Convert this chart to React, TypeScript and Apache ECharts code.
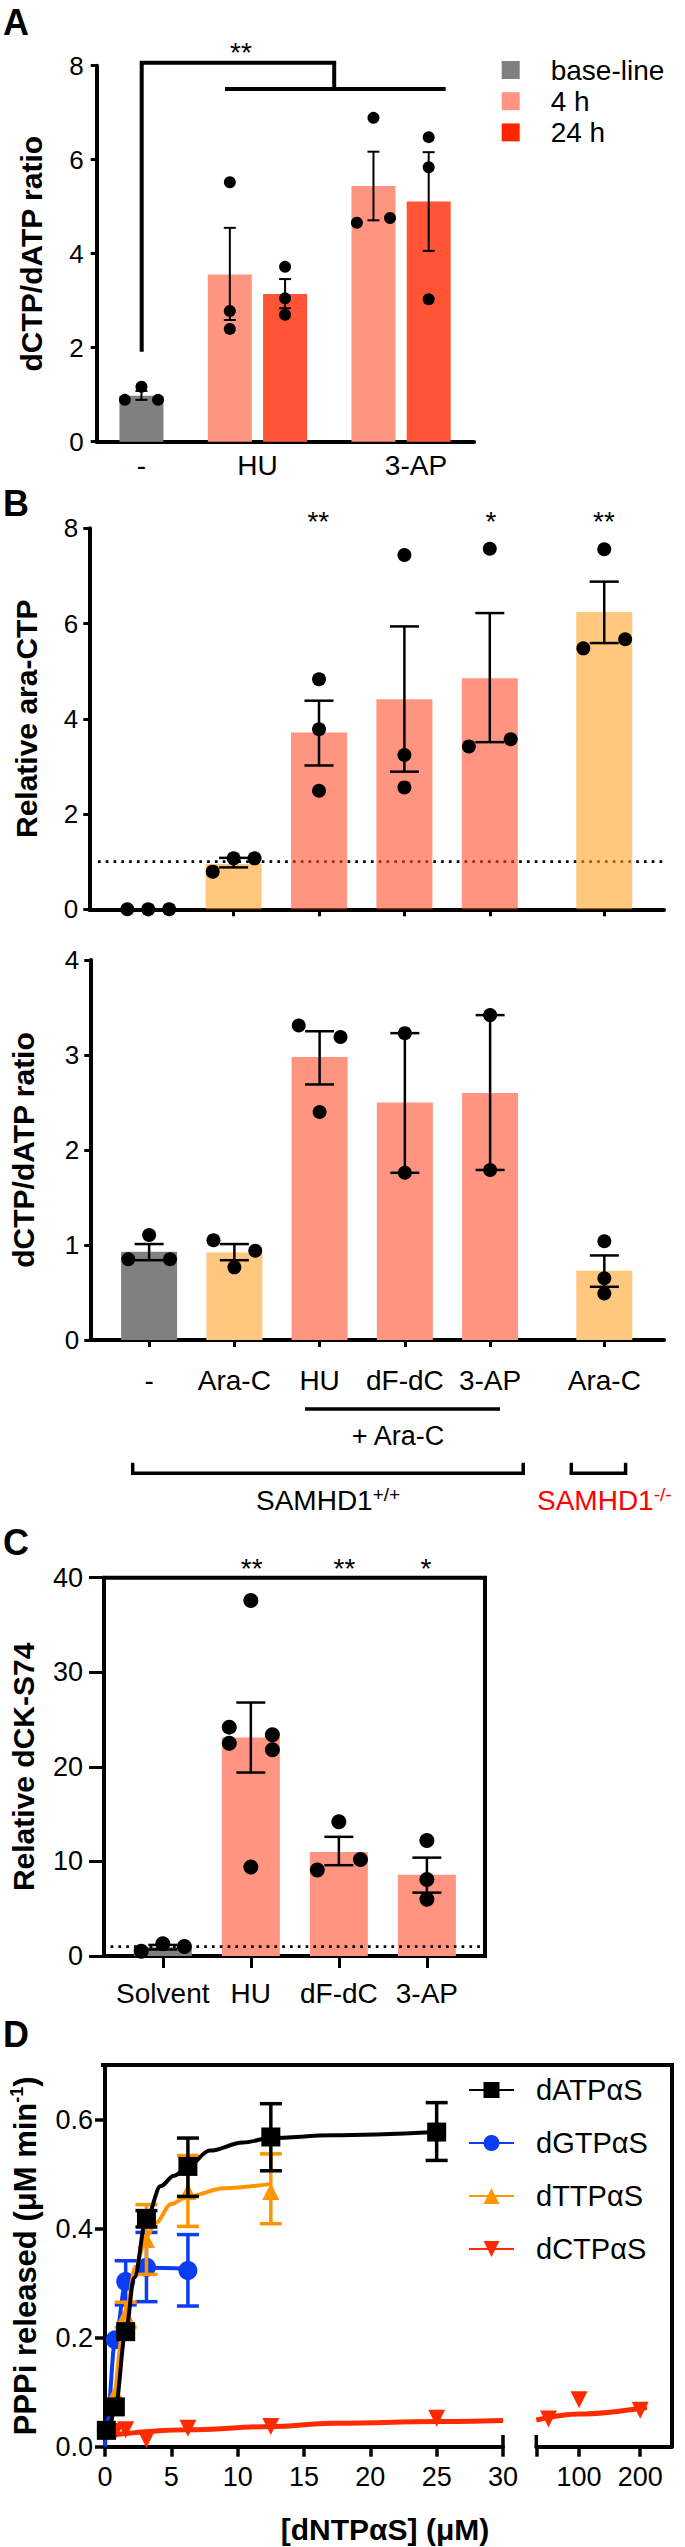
import React, { useEffect, useRef } from 'react';
import * as echarts from 'echarts';

const FONT = "'Liberation Sans', Arial, Helvetica, sans-serif";

// ---------- Panel A ----------
const aGroupLabels = ['-', 'HU', '3-AP'];
const aGroupLabelPos = [0, 2.1, 4.97];
const aBarPos = [0, 1.6, 2.6, 4.2, 5.2];
const aBarSeries = ['base-line', '4 h', '24 h', '4 h', '24 h'];
const aMean = [0.98, 3.56, 3.14, 5.44, 5.11];
const aErrLow = [0.89, 2.59, 2.84, 4.71, 4.06];
const aErrHigh = [1.08, 4.55, 3.46, 6.17, 6.16];
const aDots = [
  [[-1, 0.89], [0, 1.17], [1, 0.89]],
  [[0, 5.52], [0, 2.78], [0, 2.4]],
  [[0, 3.72], [0, 3.05], [0, 2.7]],
  [[0, 6.89], [-1, 4.66], [1, 4.76]],
  [[0, 6.48], [0, 5.84], [0, 3.03]],
];

// ---------- Panel B ----------
const bLabels = ['-', 'Ara-C', 'HU', 'dF-dC', '3-AP', 'Ara-C'];
const bPos = [0, 1, 2, 3, 4, 5.34];
const bKind = ['none', 'araC', 'combo', 'combo', 'combo', 'araC'];
const bTopMean = [0, 0.95, 3.71, 4.41, 4.85, 6.24];
const bTopLow = [null, 0.88, 3.02, 2.89, 3.51, 5.59];
const bTopHigh = [null, 1.08, 4.38, 5.94, 6.22, 6.88];
const bTopDots = [
  [[-1, 0], [0, 0], [1, 0]],
  [[-1, 0.79], [0, 1.07], [1, 1.07]],
  [[0, 4.83], [0, 3.78], [0, 2.49]],
  [[0, 7.44], [0, 3.24], [0, 2.56]],
  [[0, 7.57], [-1, 3.42], [1, 3.57]],
  [[0, 7.56], [-1, 5.48], [1, 5.67]],
];
const bBotMean = [0.93, 0.92, 2.98, 2.5, 2.6, 0.73];
const bBotLow = [0.84, 0.84, 2.69, 1.76, 1.79, 0.56];
const bBotHigh = [1.01, 1.01, 3.25, 3.23, 3.42, 0.89];
const bBotDots = [
  [[-1, 0.85], [0, 1.105], [1, 0.85]],
  [[-1, 1.05], [0, 0.765], [1, 0.94]],
  [[-1, 3.31], [0, 2.4], [1, 3.19]],
  [[0, 3.23], [0, 1.76]],
  [[0, 3.42], [0, 1.79]],
  [[0, 1.04], [0, 0.65], [0, 0.49]],
];

// ---------- Panel C ----------
const cLabels = ['Solvent', 'HU', 'dF-dC', '3-AP'];
const cPos = [0, 1, 2, 3];
const cKind = ['none', 'combo', 'combo', 'combo'];
const cMean = [0.93, 23.1, 11.0, 8.6];
const cLow = [0.69, 19.4, 9.6, 6.7];
const cHigh = [1.17, 26.8, 12.6, 10.4];
const cDots = [
  [[-1, 0.5], [0, 1.3], [1, 1.0]],
  [[0, 37.6], [-1, 24.2], [-1, 22.5], [1, 23.4], [1, 21.8], [0, 9.4]],
  [[0, 14.2], [-1, 9.1], [1, 10.2]],
  [[0, 12.2], [0, 8.1], [0, 6.0]],
];

// ---------- Panel D ----------
const dATPx = [0.1, 0.78, 1.56, 3.125, 6.25, 12.5, 25];
const dATPy = [0.03, 0.073, 0.211, 0.418, 0.514, 0.568, 0.577];
const dATPlo = [null, null, null, 0.403, 0.459, 0.506, 0.525];
const dATPhi = [null, null, null, 0.433, 0.566, 0.629, 0.631];
const dATPfit = [[0.4, 0.035], [0.78, 0.073], [1.56, 0.211], [2.2, 0.31], [3.125, 0.418], [4.2, 0.478], [5.2, 0.497], [6.25, 0.514], [7.9, 0.543], [10.4, 0.558], [12.5, 0.566], [17.1, 0.571], [25, 0.577]];

const dGTPx = [0.1, 0.78, 1.56, 3.125, 6.25];
const dGTPy = [0.031, 0.196, 0.303, 0.329, 0.323];
const dGTPlo = [null, null, 0.26, 0.266, 0.258];
const dGTPhi = [null, null, 0.341, 0.393, 0.389];
const dGTPfit = [[0, 0], [0.1, 0.03], [0.78, 0.196], [1.56, 0.3], [3.125, 0.328], [6.25, 0.326]];

const dTTPx = [0.78, 1.56, 3.125, 6.25, 12.5];
const dTTPy = [0.098, 0.242, 0.38, 0.468, 0.468];
const dTTPlo = [null, 0.219, 0.316, 0.404, 0.409];
const dTTPhi = [null, 0.265, 0.444, 0.534, 0.537];
const dTTPfit = [[0.78, 0.098], [1.56, 0.242], [2.3, 0.33], [3.125, 0.385], [3.8, 0.41], [5, 0.445], [6.25, 0.459], [9, 0.474], [12.5, 0.482]];

const dCTPx = [0.1, 0.78, 1.56, 3.125, 6.25, 12.5, 25];
const dCTPy = [0.03, 0.028, 0.031, 0.013, 0.034, 0.037, 0.052];
const dCTPx2 = [50, 100, 200];
const dCTPy2 = [0.051, 0.086, 0.067];
const dCTPfit1 = [[0, 0.02], [6.25, 0.031], [12.5, 0.037], [17.1, 0.043], [25, 0.046], [30, 0.048]];
const dCTPfit2 = [[30, 0.049], [100, 0.06], [211, 0.072]];

const dXTicks1 = [0, 5, 10, 15, 20, 25, 30];
const dXTicks2 = [30, 100, 200];
const dXLabels2 = [100, 200];
const dYTicks = [0, 0.2, 0.4, 0.6];

// ---------- styles ----------
const COL = {
  gray: '#808080',
  salmon: '#FF9580',
  red24: '#FF5436',
  red24legend: '#FF2600',
  araC: '#FFC87E',
  blue: '#0B3DF5',
  orange: '#FF9500',
  red: '#FF2A00',
};
const kindColor = (k) => (k === 'none' ? COL.gray : k === 'araC' ? COL.araC : COL.salmon);
// semi-transparent variants used where the dotted reference line runs beneath the bars
const kindColorAlpha = (k) => (k === 'none' ? '#565656' : k === 'araC' ? '#FFA328' : '#FF4E2B');

const txt = (size, extra = {}) => ({ color: '#000', fontFamily: FONT, fontSize: size, ...extra });
const axLine = { show: true, onZero: false, lineStyle: { color: '#000', width: 4 } };
const tick = (len, w = 3) => ({ show: true, length: len, lineStyle: { color: '#000', width: w } });

function errSeries(xi, yi, data, capW, lw, color, z) {
  return {
    type: 'custom',
    xAxisIndex: xi,
    yAxisIndex: yi,
    z,
    silent: true,
    data,
    encode: { x: 0, y: [1, 2] },
    renderItem: (params, api) => {
      const x = api.value(0);
      const a = api.coord([x, api.value(1)]);
      const b = api.coord([x, api.value(2)]);
      const st = { stroke: color, lineWidth: lw };
      return {
        type: 'group',
        children: [
          { type: 'line', shape: { x1: a[0], y1: a[1], x2: b[0], y2: b[1] }, style: st },
          { type: 'line', shape: { x1: b[0] - capW / 2, y1: b[1], x2: b[0] + capW / 2, y2: b[1] }, style: st },
          { type: 'line', shape: { x1: a[0] - capW / 2, y1: a[1], x2: a[0] + capW / 2, y2: a[1] }, style: st },
        ],
      };
    },
  };
}

const errData = (pos, lo, hi) =>
  pos.map((p, i) => (lo[i] == null ? null : [p, lo[i], hi[i]])).filter((d) => d);

const dotData = (pos, dots, spread) => {
  const out = [];
  dots.forEach((group, i) => group.forEach(([col, v]) => out.push([pos[i] + col * spread, v])));
  return out;
};

const dotSeries = (xi, yi, data, size, z = 6) => ({
  type: 'scatter',
  xAxisIndex: xi,
  yAxisIndex: yi,
  data,
  symbol: 'circle',
  symbolSize: size,
  itemStyle: { color: '#000', opacity: 1 },
  z,
  silent: true,
  clip: false,
});

const idxLabel = (vals, labels) => (v) => {
  const i = vals.findIndex((p) => Math.abs(p - v) < 1e-6);
  return i >= 0 ? labels[i] : '';
};

const zip = (xs, ys) => xs.map((x, i) => [x, ys[i]]);

function buildOption() {
  const grid = [
    { left: 96.7, top: 65.7, width: 377.3, height: 376 },
    { left: 89.3, top: 528.3, width: 574.7, height: 381 },
    { left: 89.3, top: 960, width: 574.7, height: 380 },
    { left: 104, top: 1577.7, width: 381, height: 378.3, show: true, borderColor: '#000', borderWidth: 4, backgroundColor: 'transparent' },
    { left: 101, top: 2065, width: 402, height: 381.7 },
    { left: 536.3, top: 2065, width: 135.7, height: 381.7 },
  ];

  const xAxis = [
    {
      gridIndex: 0, type: 'value', min: -0.81, max: 6.02,
      axisLine: axLine, axisTick: { show: false }, splitLine: { show: false },
      axisLabel: { ...txt(28), margin: 10, customValues: aGroupLabelPos, formatter: idxLabel(aGroupLabelPos, aGroupLabels) },
    },
    {
      gridIndex: 1, type: 'value', min: -0.69, max: 6.04,
      axisLine: axLine, axisTick: { ...tick(7), customValues: bPos }, splitLine: { show: false },
      axisLabel: { show: false },
    },
    {
      gridIndex: 2, type: 'value', min: -0.69, max: 6.04,
      axisLine: axLine, axisTick: { ...tick(7), customValues: bPos }, splitLine: { show: false },
      axisLabel: { ...txt(28), margin: 26, customValues: bPos, formatter: idxLabel(bPos, bLabels) },
    },
    {
      gridIndex: 3, type: 'value', min: -0.668, max: 3.66,
      axisLine: axLine, axisTick: { ...tick(12), customValues: cPos }, splitLine: { show: false },
      axisLabel: { ...txt(28), margin: 23, customValues: cPos, formatter: idxLabel(cPos, cLabels) },
    },
    {
      gridIndex: 4, type: 'value', min: 0, max: 30, interval: 5,
      axisLine: axLine, axisTick: { ...tick(10, 3.5), customValues: dXTicks1 }, splitLine: { show: false },
      axisLabel: { ...txt(27), margin: 17, customValues: dXTicks1 },
    },
    {
      gridIndex: 5, type: 'value', min: 30, max: 252,
      axisLine: axLine, axisTick: { ...tick(10, 3.5), customValues: dXTicks2 }, splitLine: { show: false },
      axisLabel: { ...txt(27), margin: 17, customValues: dXLabels2 },
    },
  ];

  const yName = (name, gap, size = 30, rich = undefined) => ({
    name,
    nameLocation: 'middle',
    nameRotate: 90,
    nameGap: gap,
    nameTextStyle: { ...txt(size), fontWeight: 'bold', ...(rich ? { rich } : {}) },
  });

  const yAxis = [
    {
      gridIndex: 0, type: 'value', min: 0, max: 8, interval: 2,
      axisLine: axLine, axisTick: tick(6), splitLine: { show: false },
      axisLabel: { ...txt(26), margin: 13 },
      ...yName('dCTP/dATP ratio', 50.7),
    },
    {
      gridIndex: 1, type: 'value', min: 0, max: 8, interval: 2,
      axisLine: axLine, axisTick: tick(6), splitLine: { show: false },
      axisLabel: { ...txt(26), margin: 11 },
      ...yName('Relative ara-CTP', 47.8),
    },
    {
      gridIndex: 2, type: 'value', min: 0, max: 4, interval: 1,
      axisLine: axLine, axisTick: tick(6), splitLine: { show: false },
      axisLabel: { ...txt(26), margin: 11 },
      ...yName('dCTP/dATP ratio', 52.3),
    },
    {
      gridIndex: 3, type: 'value', min: 0, max: 40, interval: 10,
      axisLine: axLine, axisTick: tick(15), splitLine: { show: false },
      axisLabel: { ...txt(27), margin: 21 },
      ...yName('Relative dCK-S74', 66),
    },
    {
      gridIndex: 4, type: 'value', min: 0, max: 0.7,
      axisLine: axLine, axisTick: { ...tick(10, 3.5), customValues: dYTicks }, splitLine: { show: false },
      axisLabel: { ...txt(27), margin: 12, customValues: dYTicks, formatter: (v) => Number(v).toFixed(1) },
      ...yName('{b|PPPi released (μM min}{s|-1}{b|)}', 63, 31, {
        b: { fontSize: 31, fontWeight: 'bold', fontFamily: FONT, color: '#000', lineHeight: 34 },
        s: { fontSize: 18, fontWeight: 'bold', fontFamily: FONT, color: '#000', lineHeight: 18, verticalAlign: 'top' },
      }),
    },
    { gridIndex: 5, type: 'value', min: 0, max: 0.7, show: false, splitLine: { show: false } },
  ];

  const series = [];

  // ----- A -----
  ['base-line', '4 h', '24 h'].forEach((name) => {
    const color = name === 'base-line' ? COL.gray : name === '4 h' ? COL.salmon : COL.red24;
    series.push({
      type: 'bar', name, xAxisIndex: 0, yAxisIndex: 0, barWidth: 44, barGap: '-100%',
      itemStyle: { color },
      data: aBarPos.map((p, i) => (aBarSeries[i] === name ? [p, aMean[i]] : null)).filter((d) => d),
      z: 2, silent: true,
    });
  });
  series.push(errSeries(0, 0, errData(aBarPos, aErrLow, aErrHigh), 12, 2, '#000', 5));
  series.push(dotSeries(0, 0, dotData(aBarPos, aDots, 0.3), 12));

  // ----- B top -----
  series.push({
    type: 'line', xAxisIndex: 1, yAxisIndex: 1, data: [[-0.589, 1], [6.074, 1]],
    symbol: 'none', clip: false, silent: true, z: 1,
    lineStyle: { color: '#000', width: 2.7, type: [2.7, 5.1] },
  });
  series.push({
    type: 'bar', name: 'bTop', xAxisIndex: 1, yAxisIndex: 1, barWidth: 56, silent: true, z: 2,
    data: bPos.map((p, i) => ({ value: [p, bTopMean[i]], itemStyle: { color: kindColorAlpha(bKind[i]), opacity: 0.6 } })),
  });
  series.push(errSeries(1, 1, errData(bPos, bTopLow, bTopHigh), 29, 2.5, '#000', 5));
  series.push(dotSeries(1, 1, dotData(bPos, bTopDots, 0.245), 14));

  // ----- B bottom -----
  series.push({
    type: 'bar', name: 'bBot', xAxisIndex: 2, yAxisIndex: 2, barWidth: 56, silent: true, z: 2,
    data: bPos.map((p, i) => ({ value: [p, bBotMean[i]], itemStyle: { color: kindColor(bKind[i]) } })),
  });
  series.push(errSeries(2, 2, errData(bPos, bBotLow, bBotHigh), 29, 2.5, '#000', 5));
  series.push(dotSeries(2, 2, dotData(bPos, bBotDots, 0.245), 14));

  // ----- C -----
  series.push({
    type: 'bar', name: 'cBars', xAxisIndex: 3, yAxisIndex: 3, barWidth: 58, silent: true, z: 2,
    data: cPos.map((p, i) => ({ value: [p, cMean[i]], itemStyle: { color: kindColor(cKind[i]) } })),
  });
  series.push({
    type: 'line', xAxisIndex: 3, yAxisIndex: 3, data: [[-0.593, 1], [3.61, 1]],
    symbol: 'none', clip: false, silent: true, z: 4,
    lineStyle: { color: '#000', width: 2.7, type: [2.7, 5.1] },
  });
  series.push(errSeries(3, 3, errData(cPos, cLow, cHigh), 29, 2.5, '#000', 5));
  series.push(dotSeries(3, 3, dotData(cPos, cDots, 0.245), 15));

  // ----- D -----
  const fitLine = (name, xi, yi, data, color, symbol, rot, size, width, z) => ({
    type: 'line', name, xAxisIndex: xi, yAxisIndex: yi, data,
    smooth: 0.35, smoothMonotone: 'x', showSymbol: false,
    symbol, symbolRotate: rot, symbolSize: size,
    lineStyle: { color, width }, itemStyle: { color }, z, silent: true, clip: false,
  });
  const pts = (name, xi, yi, data, color, symbol, rot, size, z) => ({
    type: 'scatter', name, xAxisIndex: xi, yAxisIndex: yi, data,
    symbol, symbolRotate: rot, symbolSize: size, itemStyle: { color, opacity: 1 }, z, silent: true, clip: false,
  });

  // red (dCTP)
  series.push(fitLine('dCTPαS', 4, 4, dCTPfit1, COL.red, 'triangle', 180, 17, 5, 3));
  series.push(fitLine('dCTPαS', 5, 5, dCTPfit2, COL.red, 'triangle', 180, 17, 5, 3));
  series.push(pts('dCTP points', 4, 4, zip(dCTPx, dCTPy), COL.red, 'triangle', 180, 17, 4));
  series.push(pts('dCTP points 2', 5, 5, zip(dCTPx2, dCTPy2), COL.red, 'triangle', 180, 17, 4));
  // blue (dGTP)
  series.push(fitLine('dGTPαS', 4, 4, dGTPfit, COL.blue, 'circle', 0, 18, 4, 5));
  series.push(errSeries(4, 4, errData(dGTPx, dGTPlo, dGTPhi), 22, 3.5, COL.blue, 5));
  series.push(pts('dGTP points', 4, 4, zip(dGTPx, dGTPy), COL.blue, 'circle', 0, 19, 6));
  // orange (dTTP)
  series.push(fitLine('dTTPαS', 4, 4, dTTPfit, COL.orange, 'triangle', 0, 17, 4, 7));
  series.push(errSeries(4, 4, errData(dTTPx, dTTPlo, dTTPhi), 22, 3.5, COL.orange, 7));
  series.push(pts('dTTP points', 4, 4, zip(dTTPx, dTTPy), COL.orange, 'triangle', 0, 17, 8));
  // black (dATP)
  series.push(fitLine('dATPαS', 4, 4, dATPfit, '#000', 'rect', 0, 18, 4, 9));
  series.push(errSeries(4, 4, errData(dATPx, dATPlo, dATPhi), 22, 3.5, '#000', 9));
  series.push(pts('dATP points', 4, 4, zip(dATPx, dATPy), '#000', 'rect', 0, 19, 10));

  const legend = [
    {
      left: 501.7, top: 56, orient: 'vertical', padding: 0,
      itemWidth: 18, itemHeight: 18, itemGap: 3.2, icon: 'rect',
      selectedMode: false,
      textStyle: { ...txt(28), lineHeight: 28, padding: [0, 0, 0, 26] },
      data: [
        { name: 'base-line' },
        { name: '4 h' },
        { name: '24 h', itemStyle: { color: COL.red24legend } },
      ],
    },
    {
      left: 468, top: 2075, orient: 'vertical', padding: 0,
      itemWidth: 45, itemHeight: 20, itemGap: 23,
      selectedMode: false,
      textStyle: { ...txt(29), lineHeight: 30, padding: [0, 0, 0, 17] },
      data: ['dATPαS', 'dGTPαS', 'dTTPαS', 'dCTPαS'],
    },
  ];

  const T = (text, x, y, size, opts = {}) => ({
    type: 'text', x, y, silent: true,
    style: {
      text, fontSize: size, fontFamily: FONT, fill: '#000',
      align: 'center', verticalAlign: 'middle', textAlign: 'center', textVerticalAlign: 'middle',
      ...opts,
    },
  });
  const PL = (points, w = 4) => ({
    type: 'polyline', silent: true,
    shape: { points },
    style: { stroke: '#000', lineWidth: w, fill: null },
  });

  const graphic = [
    T('A', 3, 22.5, 36, { fontWeight: 'bold', align: 'left', textAlign: 'left' }),
    T('B', 3, 503, 36, { fontWeight: 'bold', align: 'left', textAlign: 'left' }),
    T('C', 3, 1542.5, 36, { fontWeight: 'bold', align: 'left', textAlign: 'left' }),
    T('D', 3, 2034, 36, { fontWeight: 'bold', align: 'left', textAlign: 'left' }),
    // A significance bracket
    PL([[141.7, 351.7], [141.7, 62.7], [334.2, 62.7], [334.2, 89]]),
    PL([[225, 89], [445.7, 89]]),
    T('**', 241, 52.3, 28),
    // B stars
    T('**', 318.3, 521.6, 28),
    T('*', 491, 521.6, 28),
    T('**', 604, 521.6, 28),
    // B group annotations
    PL([[305, 1409], [500, 1409]], 3.5),
    T('+ Ara-C', 398, 1436, 27),
    PL([[132.7, 1462.7], [132.7, 1473.3], [523.2, 1473.3], [523.2, 1462.7]], 3.5),
    PL([[571.3, 1462.7], [571.3, 1473.3], [625.6, 1473.3], [625.6, 1462.7]], 3.5),
    {
      type: 'text', x: 256, y: 1500, silent: true,
      style: {
        text: '{a|SAMHD1}{s|+/+}', align: 'left', verticalAlign: 'middle', textAlign: 'left', textVerticalAlign: 'middle',
        rich: {
          a: { fontSize: 28, fontFamily: FONT, fill: '#000', color: '#000', lineHeight: 30 },
          s: { fontSize: 19, fontFamily: FONT, fill: '#000', color: '#000', lineHeight: 18, verticalAlign: 'top' },
        },
      },
    },
    {
      type: 'text', x: 537, y: 1500, silent: true,
      style: {
        text: '{a|SAMHD1}{s|-/-}', align: 'left', verticalAlign: 'middle', textAlign: 'left', textVerticalAlign: 'middle',
        rich: {
          a: { fontSize: 28, fontFamily: FONT, fill: '#FF0000', color: '#FF0000', lineHeight: 30 },
          s: { fontSize: 19, fontFamily: FONT, fill: '#FF0000', color: '#FF0000', lineHeight: 18, verticalAlign: 'top' },
        },
      },
    },
    // C stars
    T('**', 251.7, 1568.6, 28),
    T('**', 344.5, 1568.6, 28),
    T('*', 426, 1568.6, 28),
    // D frame + axis break marks + x title
    PL([[101, 2065], [672, 2065], [672, 2447]], 4),
    PL([[503, 2435], [503, 2447]], 3.5),
    PL([[536.3, 2435], [536.3, 2447]], 3.5),
    T('[dNTPαS] (μM)', 385, 2529, 30, { fontWeight: 'bold' }),
  ];

  return {
    animation: false,
    backgroundColor: '#fff',
    textStyle: { fontFamily: FONT },
    grid, xAxis, yAxis, series, legend, graphic,
  };
}

export default function App() {
  const ref = useRef(null);
  useEffect(() => {
    if (!ref.current) return;
    const chart = echarts.init(ref.current, null, { renderer: 'svg' });
    chart.setOption(buildOption());
    return () => chart.dispose();
  }, []);
  return (
    <div
      ref={ref}
      style={{ position: 'absolute', left: 0, top: 0, width: 685, height: 2547, background: '#fff' }}
    />
  );
}
